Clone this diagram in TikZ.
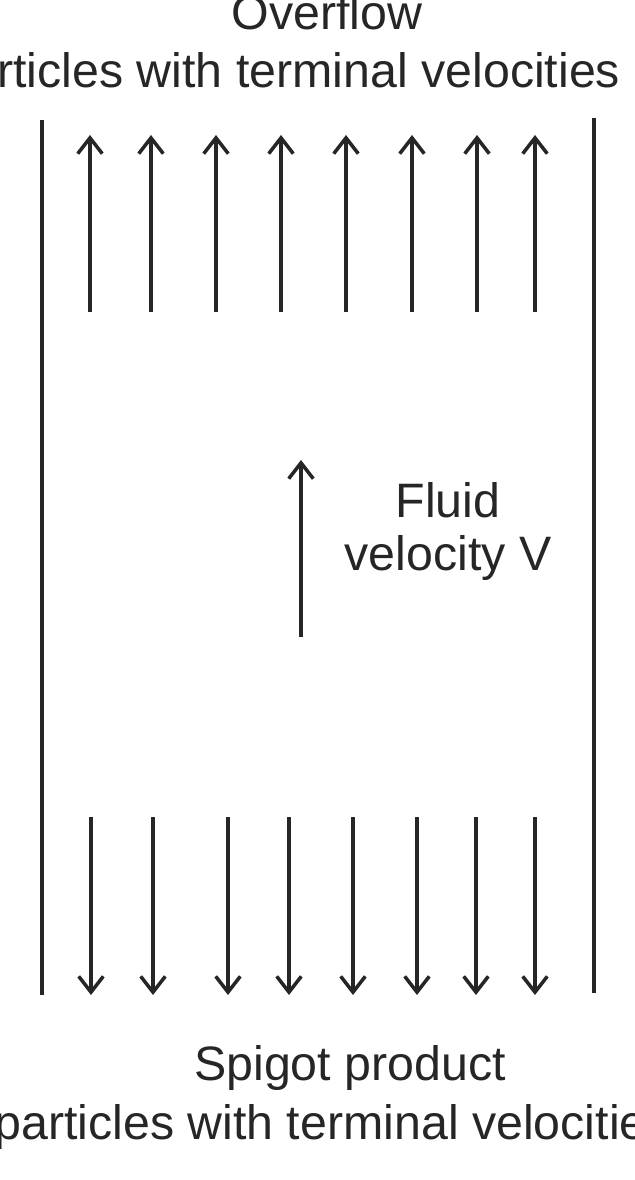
\documentclass[tikz,border=0pt]{standalone}
\usepackage{fontspec}
\setmainfont{Liberation Sans}
\usetikzlibrary{arrows.meta}
\begin{document}
\begin{tikzpicture}[x=0.02cm,y=-0.02cm,
  wall/.style={line width=2.8pt,draw=black!85},
  flow/.style={line width=2pt,draw=black!85,-{Straight Barb[length=9pt,width=14pt,line width=2pt]}},
  lbl/.style={font=\fontsize{27.5}{33}\selectfont,text=black!85,inner sep=0pt}]
\useasboundingbox (0,0) rectangle (635,1180);
\clip (0,0) rectangle (635,1180);
\draw[wall] (42,120) -- (42,995);
\draw[wall] (594,118) -- (594,993);
\foreach \x [count=\i] in {90,151,216,281,346,412,477,535}{
  \coordinate (us\i) at (\x,312); \coordinate (ue\i) at (\x,135);
  \draw[flow] (us\i) -- (ue\i);}
\foreach \x [count=\i] in {91,153,228,289,353,417,476,535}{
  \coordinate (ds\i) at (\x,817); \coordinate (de\i) at (\x,995);
  \draw[flow] (ds\i) -- (de\i);}
\coordinate (cs) at (301,637); \coordinate (ce) at (301,460);
\draw[flow] (cs) -- (ce);
\node[lbl] (fluid) at (448,500) {Fluid};
\node[lbl] (vel) at (448,558) {velocity V};
\node[lbl] (over) at (327,12) {Overflow};
\node[lbl,anchor=west] (toptext) at (-3,70) {rticles with terminal velocities};
\node[lbl] (spig) at (350,1068) {Spigot product};
\node[lbl,anchor=west] (bottext) at (-6,1127) {particles with terminal velocitie};
\end{tikzpicture}
\end{document}
